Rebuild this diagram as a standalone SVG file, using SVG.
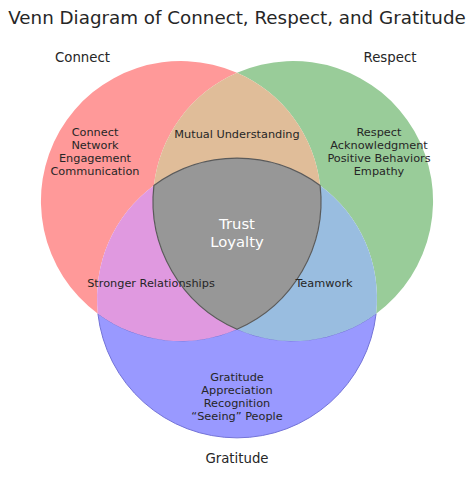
<svg xmlns="http://www.w3.org/2000/svg" width="474" height="479" viewBox="0 0 474 479">
<style>
text{font-family:"DejaVu Sans",sans-serif;fill:#262626;text-anchor:middle}
.t{font-size:18.3px}
.l{font-size:13.3px}
.s{font-size:11.3px}
.w{font-size:14.8px;fill:#ffffff}
</style>
<rect width="474" height="479" fill="#ffffff"/>
<g id="regions">
<g id="red-only"><path d="M237 72.7 A140 140 0 0 0 97.9 313.7 A140 140 0 0 1 153.9 185.4 A140 140 0 0 1 237 72.7 Z" fill="#ff9999"/></g>
<g id="green-only"><path d="M237 72.7 A140 140 0 0 1 376.1 313.7 A140 140 0 0 0 320.1 185.4 A140 140 0 0 0 237 72.7 Z" fill="#99cc99"/></g>
<g id="blue-only"><path d="M97.9 313.7 A140 140 0 0 0 376.1 313.7 A140 140 0 0 1 237 329.3 A140 140 0 0 1 97.9 313.7 Z" fill="#9999ff" stroke="#7474d8" stroke-width="1"/></g>
<g id="red-green"><path d="M237 72.7 A140 140 0 0 0 153.9 185.4 A140 140 0 0 1 320.1 185.4 A140 140 0 0 0 237 72.7 Z" fill="#e0bd99"/></g>
<g id="red-blue"><path d="M97.9 313.7 A140 140 0 0 1 153.9 185.4 A140 140 0 0 0 237 329.3 A140 140 0 0 1 97.9 313.7 Z" fill="#e099e0"/></g>
<g id="green-blue"><path d="M376.1 313.7 A140 140 0 0 0 320.1 185.4 A140 140 0 0 1 237 329.3 A140 140 0 0 0 376.1 313.7 Z" fill="#99bde0"/></g>
<g id="center"><path d="M153.9 185.4 A140 140 0 0 1 320.1 185.4 A140 140 0 0 1 237 329.3 A140 140 0 0 1 153.9 185.4 Z" fill="#979797" stroke="#5a5a5a" stroke-width="1.2"/></g>
</g>
<g id="connectors"></g>
<g id="labels">
<text class="t" x="237" y="24">Venn Diagram of Connect, Respect, and Gratitude</text>
<text class="l" x="82.5" y="62">Connect</text>
<text class="l" x="390" y="62">Respect</text>
<text class="l" x="237" y="463">Gratitude</text>
<text class="s" x="95" y="135.5">Connect</text>
<text class="s" x="95" y="148.5">Network</text>
<text class="s" x="95" y="161.5">Engagement</text>
<text class="s" x="95" y="174.5">Communication</text>
<text class="s" x="379" y="135.5">Respect</text>
<text class="s" x="379" y="148.5">Acknowledgment</text>
<text class="s" x="379" y="161.5">Positive Behaviors</text>
<text class="s" x="379" y="174.5">Empathy</text>
<text class="s" x="237" y="137.5">Mutual Understanding</text>
<text class="w" x="237" y="229">Trust</text>
<text class="w" x="237" y="246.7">Loyalty</text>
<text class="s" x="151" y="287">Stronger Relationships</text>
<text class="s" x="324" y="287">Teamwork</text>
<text class="s" x="237" y="380.5">Gratitude</text>
<text class="s" x="237" y="393.5">Appreciation</text>
<text class="s" x="237" y="406.5">Recognition</text>
<text class="s" x="237" y="419.5">“Seeing” People</text>
</g>
</svg>
